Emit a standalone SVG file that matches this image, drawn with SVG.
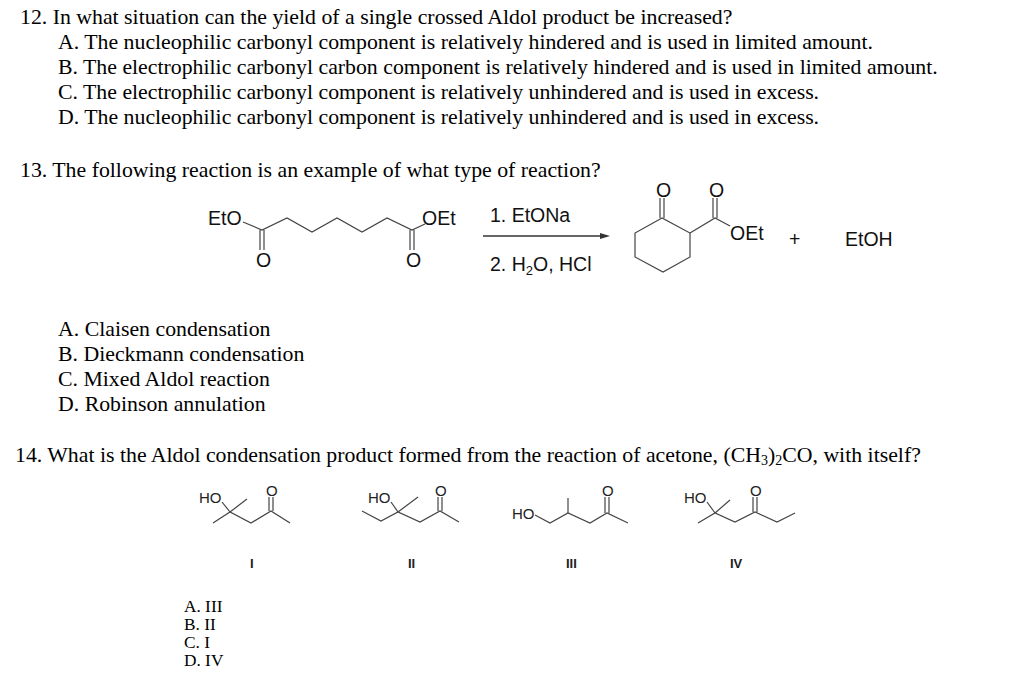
<svg xmlns="http://www.w3.org/2000/svg" width="1024" height="687" viewBox="0 0 1024 687">
<style>
.t{font-family:"Liberation Serif",serif;font-size:21.8px;fill:#000}
.s{font-family:"Liberation Serif",serif;font-size:17.3px;fill:#000}
.a{font-family:"Liberation Sans",Arial,sans-serif;font-size:19.5px;fill:#111}
.h{font-family:"Liberation Sans",Arial,sans-serif;font-size:15px;fill:#222}
.r{font-family:"Liberation Sans",Arial,sans-serif;font-size:13px;font-weight:bold;fill:#222}
.b{fill:none;stroke:#444;stroke-width:1.2}
</style>
<rect width="1024" height="687" fill="#fff"/>
<text class="t" x="20" y="24">12.  In what situation can the yield of a single crossed Aldol product be increased?</text>
<text class="t" x="58" y="49">A. The nucleophilic carbonyl component is relatively hindered and is used in limited amount.</text>
<text class="t" x="58" y="74">B. The electrophilic carbonyl carbon component is relatively hindered and is used in limited amount.</text>
<text class="t" x="58" y="99">C. The electrophilic carbonyl component is relatively unhindered and is used in excess.</text>
<text class="t" x="58" y="124">D. The nucleophilic carbonyl component is relatively unhindered and is used in excess.</text>
<text class="t" x="20" y="177">13. The following reaction is an example of what type of reaction?</text>
<g id="reactant">
<text class="a" x="208" y="225">EtO</text>
<text class="a" x="422" y="225">OEt</text>
<polyline class="b" points="243,222 262,230 287,218 312,232 337,218 362,232 387,218 412,230 425,224"/>
<line class="b" x1="260" y1="230" x2="260" y2="250"/><line class="b" x1="264" y1="230" x2="264" y2="250"/>
<line class="b" x1="410" y1="230" x2="410" y2="250"/><line class="b" x1="414" y1="230" x2="414" y2="250"/>
<text class="a" x="256" y="267">O</text><text class="a" x="406" y="267">O</text>
</g>
<g id="arrow">
<line x1="483" y1="236" x2="602" y2="236" stroke="#333" stroke-width="1.3"/>
<polygon points="610,236 600,233 600,239" fill="#333"/>
<text class="a" x="490" y="222">1. EtONa</text>
<text class="a" x="490" y="271">2. H<tspan font-size="13" dy="4">2</tspan><tspan dy="-4">O, HCl</tspan></text>
</g>
<g id="product">
<polygon class="b" points="662,218 635,233 635,257 663,272 690,257 690,233"/>
<line class="b" x1="660" y1="218" x2="660" y2="198"/><line class="b" x1="664" y1="218" x2="664" y2="198"/>
<text class="a" x="656" y="197">O</text>
<polyline class="b" points="690,233 715,218 730,226"/>
<line class="b" x1="713" y1="218" x2="713" y2="198"/><line class="b" x1="717" y1="218" x2="717" y2="198"/>
<text class="a" x="709" y="197">O</text>
<text class="a" x="730" y="240">OEt</text>
<text class="a" x="789" y="246">+</text>
<text class="a" x="845" y="246">EtOH</text>
</g>
<text class="t" x="58" y="336">A. Claisen condensation</text>
<text class="t" x="58" y="361">B. Dieckmann condensation</text>
<text class="t" x="58" y="386">C. Mixed Aldol reaction</text>
<text class="t" x="58" y="411">D. Robinson annulation</text>
<text class="t" x="15" y="462">14.  What is the Aldol condensation product formed from the reaction of acetone, (CH<tspan font-size="14" dy="3">3</tspan><tspan dy="-3">)</tspan><tspan font-size="14" dy="3">2</tspan><tspan dy="-3">CO, with itself?</tspan></text>
<g id="I">
<text class="h" x="199" y="503">HO</text>
<line class="b" x1="222" y1="502" x2="230" y2="512"/>
<polyline class="b" points="213,523 230,512 251,523 271,511 290,523"/>
<line class="b" x1="230" y1="512" x2="247" y2="499"/>
<line class="b" x1="269" y1="511" x2="269" y2="497"/><line class="b" x1="273" y1="511" x2="273" y2="497"/>
<text class="h" x="266" y="496">O</text>
<text class="r" x="250" y="568">I</text>
</g>
<g id="II">
<text class="h" x="368" y="503">HO</text>
<line class="b" x1="391" y1="502" x2="398" y2="512"/>
<polyline class="b" points="362,511 381,521 398,512 420,522 440,511 459,522"/>
<line class="b" x1="398" y1="512" x2="418" y2="497"/>
<line class="b" x1="438" y1="511" x2="438" y2="497"/><line class="b" x1="442" y1="511" x2="442" y2="497"/>
<text class="h" x="435" y="496">O</text>
<text class="r" x="408" y="568">II</text>
</g>
<g id="III">
<text class="h" x="512" y="519">HO</text>
<polyline class="b" points="535,515 550,523 568,513 590,523 607,513 628,523"/>
<line class="b" x1="568" y1="513" x2="568" y2="498"/>
<line class="b" x1="605" y1="513" x2="605" y2="497"/><line class="b" x1="609" y1="513" x2="609" y2="497"/>
<text class="h" x="602" y="496">O</text>
<text class="r" x="566" y="568">III</text>
</g>
<g id="IV">
<text class="h" x="684" y="503">HO</text>
<line class="b" x1="707" y1="502" x2="715" y2="513"/>
<polyline class="b" points="698,523 715,513 735,522 755,512 777,522 795,513"/>
<line class="b" x1="715" y1="513" x2="730" y2="500"/>
<line class="b" x1="753" y1="512" x2="753" y2="497"/><line class="b" x1="757" y1="512" x2="757" y2="497"/>
<text class="h" x="750" y="496">O</text>
<text class="r" x="730" y="568">IV</text>
</g>
<text class="s" x="184" y="612">A. III</text>
<text class="s" x="184" y="630">B. II</text>
<text class="s" x="184" y="648">C. I</text>
<text class="s" x="184" y="666">D. IV</text>
</svg>
